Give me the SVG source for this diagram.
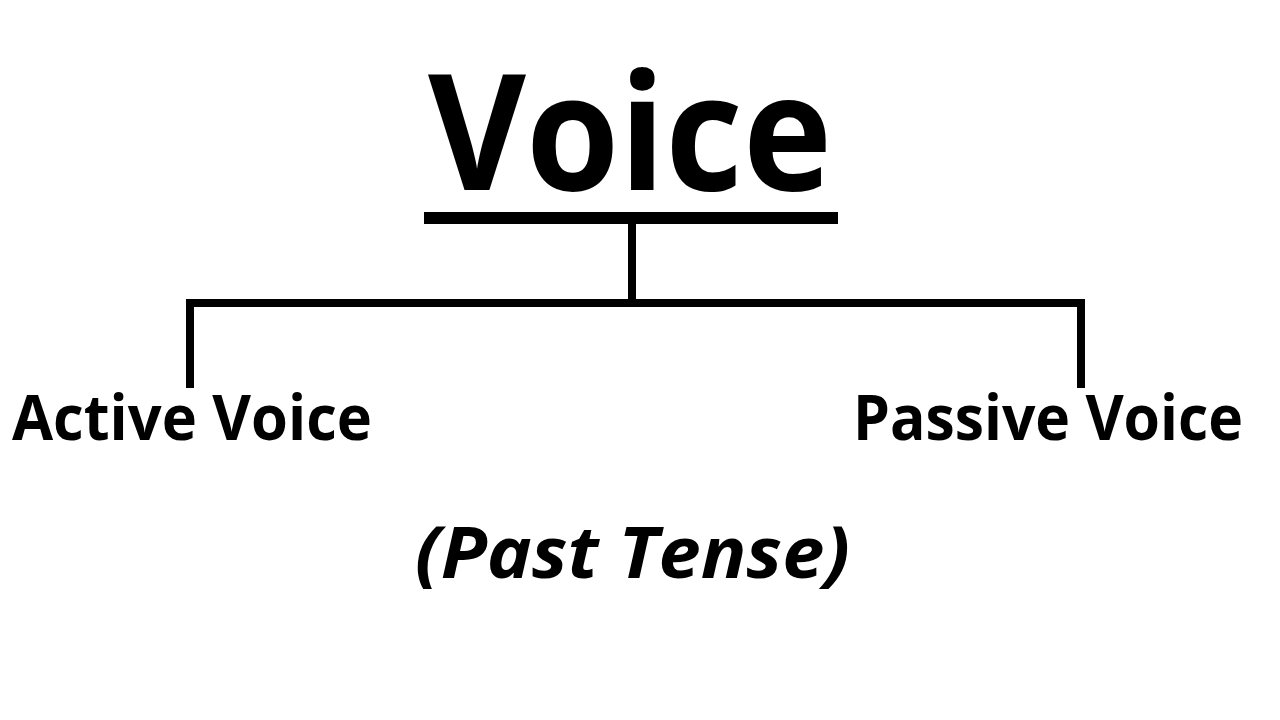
<svg xmlns="http://www.w3.org/2000/svg" width="1280" height="720" viewBox="0 0 1280 720">
<style>
text{font-family:"Open Sans","Liberation Sans",sans-serif;font-weight:bold;fill:#000}
.ln{fill:#000}
</style>
<rect width="1280" height="720" fill="#fff"/>
<g id="voice">
<text x="630" y="190" font-size="161" text-anchor="middle" textLength="404" lengthAdjust="spacingAndGlyphs">Voice</text>
<rect class="ln" x="424" y="212" width="414" height="12"/>
</g>
<g id="connectors">
<rect class="ln" x="628" y="222" width="8" height="80"/>
<rect class="ln" x="186" y="299" width="899" height="8"/>
<rect class="ln" x="186" y="299" width="8" height="89"/>
<rect class="ln" x="1077" y="299" width="8" height="89"/>
</g>
<g id="active">
<text x="12" y="440" font-size="62" textLength="360" lengthAdjust="spacingAndGlyphs">Active Voice</text>
</g>
<g id="passive">
<text x="853" y="440" font-size="62" textLength="390" lengthAdjust="spacingAndGlyphs">Passive Voice</text>
</g>
<g id="tense">
<text x="415" y="578" font-size="71" font-style="italic" textLength="435" lengthAdjust="spacingAndGlyphs">(Past Tense)</text>
</g>
</svg>
